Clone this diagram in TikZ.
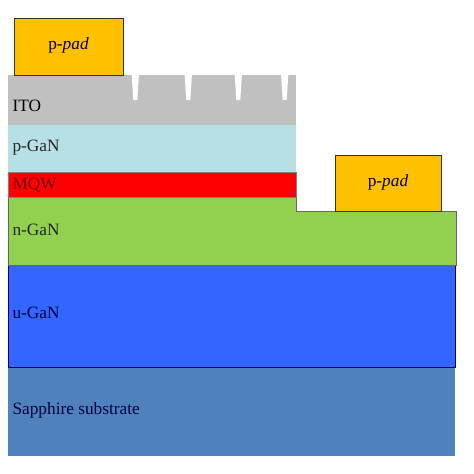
\documentclass[tikz,border=0pt]{standalone}
\usepackage{fontspec}
\setmainfont{Liberation Serif}
\definecolor{padcol}{HTML}{FFC000}
\definecolor{itocol}{HTML}{C0C0C0}
\definecolor{pgancol}{HTML}{B7DFE6}
\definecolor{mqwcol}{HTML}{FF0000}
\definecolor{ngancol}{HTML}{92D050}
\definecolor{ugancol}{HTML}{3366FF}
\definecolor{saphcol}{HTML}{4F81BD}
\begin{document}
\begin{tikzpicture}[x=1pt,y=-1pt,
	lbl/.style={anchor=west,font=\fontsize{17.3}{20}\selectfont},
	padbox/.style={draw=black!80,fill=padcol,line width=0.8pt}]
	\useasboundingbox (0,0) rectangle (474,474);
	% layers, bottom up
	\fill[saphcol] (8,367) rectangle (455,456);
	\draw[fill=ugancol,draw=blue!40!black,line width=0.8pt] (8,265) rectangle (455,367);
	\draw[fill=ngancol,draw=black!60,line width=0.4pt] (8,197) -- (296,197) -- (296,211) -- (456,211) -- (456,265) -- (8,265) -- cycle;
	\draw[fill=mqwcol,draw=black!50,line width=0.4pt] (8,172) rectangle (296,197);
	\fill[pgancol] (8,125) rectangle (296,172);
	\fill[itocol] (8,75) rectangle (296,125);
	\foreach \gx in {135.3,188.3,238.3,284.7}
		\fill[white] (\gx-3.6,75) -- (\gx+3.6,75) -- (\gx+2,100) -- (\gx-2,100) -- cycle;
	% contacts
	\draw[padbox] (14,18) rectangle (123,75);
	\draw[padbox] (335,155) rectangle (441,211);
	\node[font=\fontsize{17.3}{20}\selectfont] (ppadl) at (68.5,45.5) {p-\textit{pad}};
	\node[font=\fontsize{17.3}{20}\selectfont] (ppadr) at (388,182) {p-\textit{pad}};
	% labels
	\node[lbl] (ito) at (9,106) {ITO};
	\node[lbl,text=black!85] (pgan) at (9,148) {p-GaN};
	\node[lbl,text=red!45!black] (mqw) at (9,185) {MQW};
	\node[lbl,text=black!85] (ngan) at (9,230) {n-GaN};
	\node[lbl,text=blue!25!black] (ugan) at (9,313) {u-GaN};
	\node[lbl,text=blue!25!black] (saph) at (9,410) {Sapphire substrate};
\end{tikzpicture}
\end{document}
